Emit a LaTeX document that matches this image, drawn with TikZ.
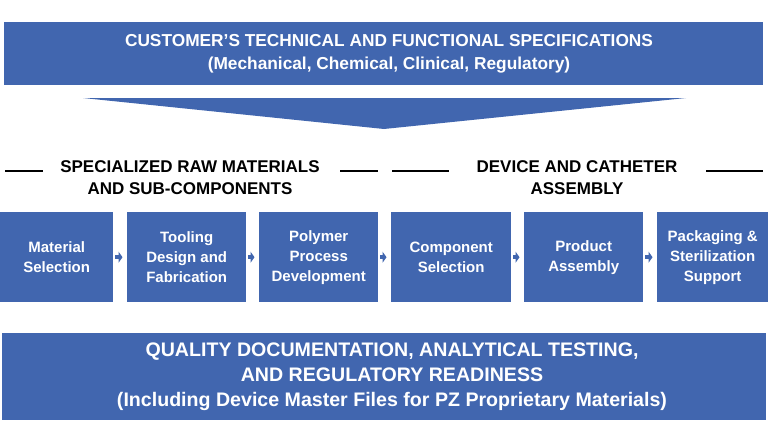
\documentclass[tikz,border=0pt]{standalone}
\usepackage{fontspec}
\setmainfont{Liberation Sans}
\usetikzlibrary{arrows.meta}
\definecolor{pzblue}{RGB}{65,102,175}
\tikzset{
  banner/.style={fill=pzblue, draw=none, inner sep=0pt},
  bannertext/.style={text=white, align=center, inner sep=0pt},
  stepbox/.style={fill=pzblue, draw=none, minimum height=90pt, inner sep=2pt, text=white, align=center, font=\fontsize{15}{20}\selectfont\bfseries, anchor=north west},
  header/.style={align=center, font=\fontsize{17}{22}\selectfont\bfseries, text=black},
  rule/.style={line width=2.6pt, black},
  flow/.style={pzblue, line width=4pt, -{Triangle[length=4pt,width=11pt]}, shorten >=4.5pt, shorten <=2pt}
}
\begin{document}
\begin{tikzpicture}[x=1pt,y=-1pt]
\useasboundingbox (0,0) rectangle (768,429);
% top banner
\node[banner, minimum width=759pt, minimum height=63pt] (spec) at (383.5,53.5) {};
\node[bannertext, font=\bfseries\fontsize{17.3}{23}\selectfont] (spectext) at (389,54) {CUSTOMER’S TECHNICAL AND FUNCTIONAL SPECIFICATIONS\\(Mechanical, Chemical, Clinical, Regulatory)};
% chevron
\fill[pzblue] (83,98) -- (686,98) -- (384,129) -- cycle;
\coordinate (chev) at (384,113);
% headers
\node[header] (h1) at (190,178) {SPECIALIZED RAW MATERIALS\\AND SUB-COMPONENTS};
\node[header] (h2) at (577,178) {DEVICE AND CATHETER\\ASSEMBLY};
\coordinate (l1a) at (5,171); \coordinate (l1b) at (43,171);
\coordinate (l2a) at (340,171); \coordinate (l2b) at (378,171);
\coordinate (l3a) at (392,171); \coordinate (l3b) at (449,171);
\coordinate (l4a) at (706,171); \coordinate (l4b) at (763,171);
\draw[rule] (l1a) -- (l1b);
\draw[rule] (l2a) -- (l2b);
\draw[rule] (l3a) -- (l3b);
\draw[rule] (l4a) -- (l4b);
% boxes
\node[stepbox, minimum width=113pt] (b1) at (0,212) {Material\\Selection};
\node[stepbox, minimum width=119pt] (b2) at (127,212) {Tooling\\Design and\\Fabrication};
\node[stepbox, minimum width=119pt] (b3) at (259,212) {Polymer\\Process\\Development};
\node[stepbox, minimum width=120pt] (b4) at (391,212) {Component\\Selection};
\node[stepbox, minimum width=119pt] (b5) at (524,212) {Product\\Assembly};
\node[stepbox, minimum width=111pt] (b6) at (657,212) {Packaging \&\\Sterilization\\Support};
\draw[flow] (b1.east) -- (b2.west);
\draw[flow] (b2.east) -- (b3.west);
\draw[flow] (b3.east) -- (b4.west);
\draw[flow] (b4.east) -- (b5.west);
\draw[flow] (b5.east) -- (b6.west);
% bottom banner
\node[banner, minimum width=764pt, minimum height=87pt] (qual) at (384,376.5) {};
\node[bannertext, font=\bfseries\fontsize{19.6}{25}\selectfont] (qualtext) at (392,377) {QUALITY DOCUMENTATION, ANALYTICAL TESTING,\\AND REGULATORY READINESS\\(Including Device Master Files for PZ Proprietary Materials)};
\end{tikzpicture}
\end{document}
